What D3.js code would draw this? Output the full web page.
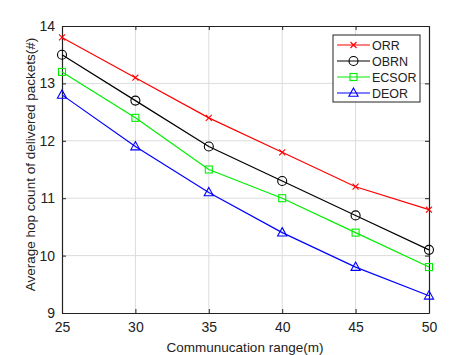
<!DOCTYPE html>
<html><head><meta charset="utf-8">
<script src="https://cdn.jsdelivr.net/npm/d3@7"></script>
<style>body{margin:0;background:#fff}svg{display:block}text{font-family:"Liberation Sans",Arial,sans-serif}</style>
</head><body><svg id="c" width="474" height="355"></svg>
<script>
const xs = [25, 30, 35, 40, 45, 50];
const orr = [13.8, 13.1, 12.4, 11.8, 11.2, 10.8];
const obrn = [13.5, 12.7, 11.9, 11.3, 10.7, 10.1];
const ecsor = [13.2, 12.4, 11.5, 11.0, 10.4, 9.8];
const deor = [12.8, 11.9, 11.1, 10.4, 9.8, 9.3];
const xTicks = [25, 30, 35, 40, 45, 50];
const yTicks = [9, 10, 11, 12, 13, 14];
const seriesNames = ["ORR", "OBRN", "ECSOR", "DEOR"];

const series = [
  {name: seriesNames[0], vals: orr, color: "#ff0000", marker: "x"},
  {name: seriesNames[1], vals: obrn, color: "#000000", marker: "o"},
  {name: seriesNames[2], vals: ecsor, color: "#00ee00", marker: "s"},
  {name: seriesNames[3], vals: deor, color: "#0000ff", marker: "t"}
];

const L = 62, R = 429, T = 26, B = 313;
const svg = d3.select("#c");
const x = d3.scaleLinear().domain([25, 50]).range([L, R]);
const y = d3.scaleLinear().domain([9, 14]).range([B, T]);

// grid
svg.append("g").selectAll("line").data(xTicks.slice(1, -1)).join("line")
  .attr("x1", d => x(d)).attr("x2", d => x(d)).attr("y1", T).attr("y2", B)
  .attr("stroke", "#dcdcdc").attr("stroke-width", 1);
svg.append("g").selectAll("line").data(yTicks.slice(1, -1)).join("line")
  .attr("y1", d => y(d)).attr("y2", d => y(d)).attr("x1", L).attr("x2", R)
  .attr("stroke", "#dcdcdc").attr("stroke-width", 1);

// axes
const fmt = d3.format("d");
const gx = svg.append("g").attr("transform", `translate(0,${B})`)
  .call(d3.axisBottom(x).tickValues(xTicks).tickFormat(fmt).tickSizeInner(-4).tickSizeOuter(0).tickPadding(9));
const gxt = svg.append("g").attr("transform", `translate(0,${T})`)
  .call(d3.axisTop(x).tickValues(xTicks).tickFormat("").tickSizeInner(-4).tickSizeOuter(0));
const gy = svg.append("g").attr("transform", `translate(${L},0)`)
  .call(d3.axisLeft(y).tickValues(yTicks).tickFormat(fmt).tickSizeInner(-4).tickSizeOuter(0).tickPadding(7));
const gyr = svg.append("g").attr("transform", `translate(${R},0)`)
  .call(d3.axisRight(y).tickValues(yTicks).tickFormat("").tickSizeInner(-4).tickSizeOuter(0));
[gx, gxt, gy, gyr].forEach(g => {
  g.selectAll("path").attr("stroke", "#222").attr("stroke-width", 1.2);
  g.selectAll("line").attr("stroke", "#222");
  g.selectAll("text").attr("font-size", 14).attr("fill", "#222")
    .attr("font-family", "'Liberation Sans', Arial, sans-serif");
});

svg.append("text").attr("x", 245).attr("y", 352).attr("text-anchor", "middle")
  .attr("font-size", 13.5).attr("fill", "#222").text("Communucation range(m)");
svg.append("text").attr("transform", `translate(35,${(T + B) / 2 - 5}) rotate(-90)`)
  .attr("text-anchor", "middle").attr("font-size", 13.5).attr("fill", "#222")
  .text("Average hop count of delivered packets(#)");

function drawMarker(g, type, cx, cy, color) {
  if (type === "x") {
    const s = 3;
    g.append("path").attr("d", `M${cx-s},${cy-s}L${cx+s},${cy+s}M${cx-s},${cy+s}L${cx+s},${cy-s}`)
      .attr("stroke", color).attr("stroke-width", 1.1).attr("fill", "none");
  } else if (type === "o") {
    g.append("circle").attr("cx", cx).attr("cy", cy).attr("r", 4.5)
      .attr("stroke", color).attr("stroke-width", 1.1).attr("fill", "none");
  } else if (type === "s") {
    g.append("rect").attr("x", cx - 3.5).attr("y", cy - 3.5).attr("width", 7).attr("height", 7)
      .attr("stroke", color).attr("stroke-width", 1.1).attr("fill", "none");
  } else {
    g.append("path").attr("d", `M${cx},${cy-5}L${cx+4.6},${cy+3.3}L${cx-4.6},${cy+3.3}Z`)
      .attr("stroke", color).attr("stroke-width", 1.1).attr("fill", "none");
  }
}

const line = d3.line().x(d => x(d[0])).y(d => y(d[1]));
series.forEach(s => {
  const pts = xs.map((v, i) => [v, s.vals[i]]);
  const g = svg.append("g");
  g.append("path").datum(pts).attr("d", line).attr("fill", "none")
    .attr("stroke", s.color).attr("stroke-width", 1.2);
  pts.forEach(p => drawMarker(g, s.marker, x(p[0]), y(p[1]), s.color));
});

// legend
const lg = svg.append("g");
lg.append("rect").attr("x", 333).attr("y", 35).attr("width", 87).attr("height", 67)
  .attr("fill", "#fff").attr("stroke", "#222").attr("stroke-width", 1);
series.forEach((s, i) => {
  const yy = 45 + i * 16;
  lg.append("line").attr("x1", 337).attr("x2", 370).attr("y1", yy).attr("y2", yy)
    .attr("stroke", s.color).attr("stroke-width", 1.2);
  drawMarker(lg, s.marker, 353.5, yy, s.color);
  lg.append("text").attr("x", 372).attr("y", yy + 4.5).attr("font-size", 12.5).attr("fill", "#222").text(s.name);
});
</script></body></html>
